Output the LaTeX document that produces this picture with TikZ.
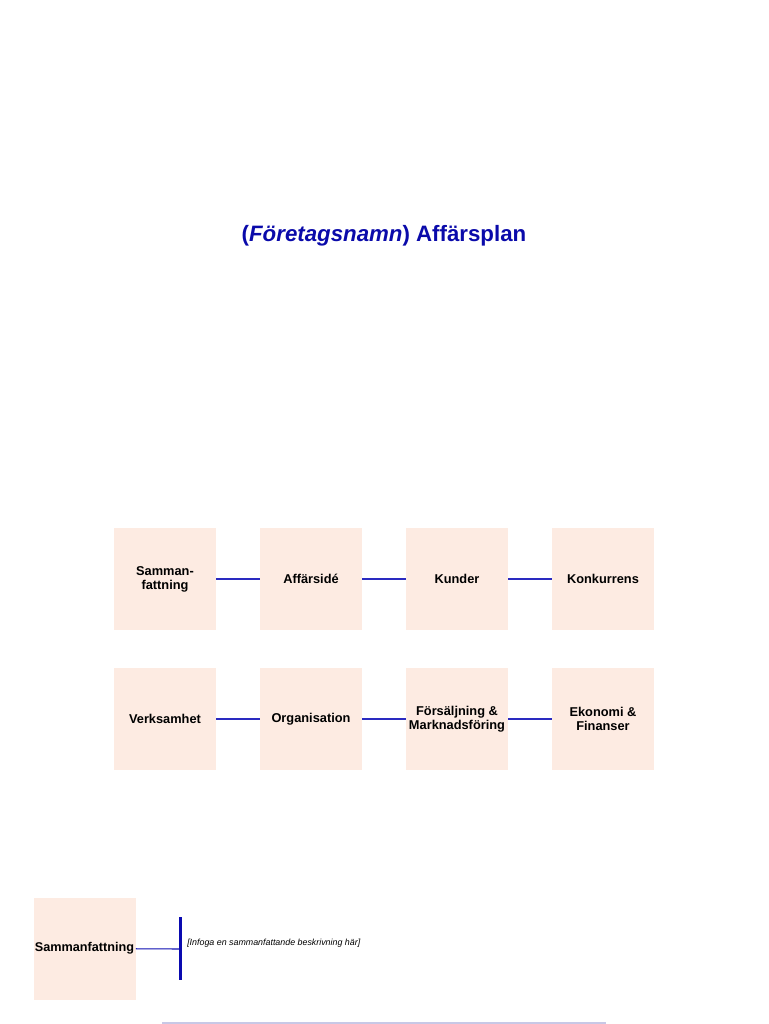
\documentclass[tikz,border=0pt]{standalone}
\usepackage{fontspec}
\setmainfont{Liberation Sans}
\usepackage{tikz}
\usetikzlibrary{positioning}
\definecolor{peach}{HTML}{FDEBE2}
\definecolor{planblue}{HTML}{2A2AC0}
\definecolor{titleblue}{HTML}{0A0AAA}
\definecolor{barblue}{HTML}{0A0AB0}
\definecolor{rulegrey}{HTML}{C8C8E6}
\tikzset{
  part/.style={fill=peach,minimum width=76.5pt,minimum height=76.5pt,inner sep=0pt,
    align=center,font=\fontsize{9.6}{10.4}\selectfont\bfseries},
  link/.style={draw=planblue,line width=0.8pt}
}

\begin{document}
\begin{tikzpicture}[x=0.75pt,y=-0.75pt,node distance=109.5pt and 109.5pt,on grid]
\useasboundingbox (0,0) rectangle (768,1024);

\node[font=\fontsize{16.7}{20}\selectfont\bfseries,text=titleblue] (title) at (384,236)
  {(\textit{Företagsnamn}) Affärsplan};

\node[part] (p_1) at (165,579) {Samman-\\fattning};
\node[part] (p_2) [right=of p_1] {Affärsidé};
\node[part] (p_3) [right=of p_2] {Kunder};
\node[part] (p_4) [right=of p_3] {Konkurrens};

% row two
\node[part] (p_5) [below=105pt of p_1] {Verksamhet};
\node[part] (p_6) [right=of p_5] {Organisation};
\node[part] (p_7) [right=of p_6] {Försäljning \&\\Marknadsföring};
\node[part] (p_8) [right=of p_7] {Ekonomi \&\\Finanser};

% summary
\node[part,font=\fontsize{9.5}{10}\selectfont\bfseries] (sum) at (84.5,948.5) {Sammanfattning};
\coordinate (bar_t) at (180.5,917);
\coordinate (bar_b) at (180.5,980);
\coordinate (bar_m) at (180.5,949);
\node[anchor=west,inner sep=0pt,font=\fontsize{6.65}{8}\selectfont\itshape] (info) at (187,943)
  {[Infoga en sammanfattande beskrivning här]};

\draw[link] (p_1) -- (p_2);
\draw[link] (p_2) -- (p_3);
\draw[link] (p_3) -- (p_4);
\draw[link] (p_5) -- (p_6);
\draw[link] (p_6) -- (p_7);
\draw[link] (p_7) -- (p_8);
\draw[link,barblue] (sum) -- (bar_m);
\draw[barblue,line width=2.2pt] (bar_t) -- (bar_b);

\coordinate (rule_l) at (162,1023);
\coordinate (rule_r) at (606,1023);
\draw[rulegrey,line width=0.8pt] (rule_l) -- (rule_r);
\end{tikzpicture}
\end{document}
